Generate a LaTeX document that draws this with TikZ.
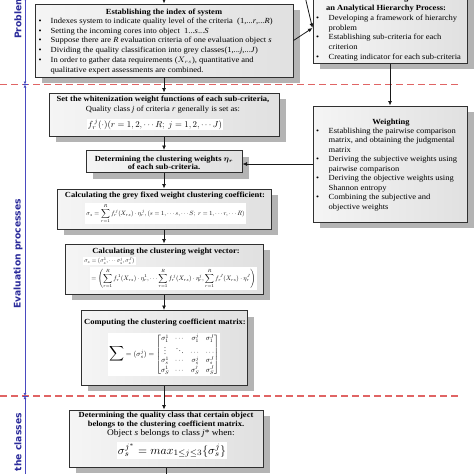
\documentclass[tikz,border=0pt]{standalone}
\usepackage{amsmath}
\usepackage{graphicx}
\usepackage{fontspec}
\setmainfont{Liberation Serif}[FakeStretch=1.09]
\newfontfamily\sidefont{DejaVu Sans}
\usetikzlibrary{arrows.meta,shadows}
\definecolor{boxline}{HTML}{303030}
\definecolor{shadowgray}{HTML}{B4B4B4}
\definecolor{sidebl}{HTML}{4A4AC0}
\definecolor{sidetxt}{HTML}{2A2A9A}
\definecolor{sepred}{HTML}{E06464}
\tikzset{
  box/.style={draw=boxline, line width=1pt, left color=black!4, right color=black!12, inner sep=0pt,
    drop shadow={shadow xshift=7pt, shadow yshift=-6pt, fill=shadowgray, opacity=1}},
  arr/.style={-{Latex[length=4.5pt,width=4pt]}, line width=0.8pt, draw=black!90},
  boxbody/.style={font=\fontsize{7.8}{9.75}\selectfont, inner sep=0pt},
  boxtitle/.style={font=\fontsize{7.8}{9.75}\selectfont\bfseries, inner sep=0pt},
  eq/.style={fill=white, inner sep=1.2pt},
  sidelabel/.style={font=\sidefont\bfseries\fontsize{9.2}{10}\selectfont, text=sidetxt, rotate=90, inner sep=0pt},
  sideline/.style={draw=sidebl, line width=0.8pt},
  sidetip/.style={sideline, {Latex[length=3pt,width=3pt]}-{Latex[length=3pt,width=3pt]}},
  sepline/.style={draw=sepred, line width=1.2pt, dash pattern=on 7pt off 4pt},
}
\begin{document}
\begin{tikzpicture}[x=1pt,y=-1pt]
\useasboundingbox (0,0) rectangle (474,474);

% side structure
\coordinate (s0) at (25,-3);
\coordinate (s1) at (25,84.5);
\coordinate (s2) at (25,396);
\coordinate (s3) at (25,478);
\draw[sepline] (0,84.5) -- (460,84.5);
\draw[sepline] (0,396) -- (460,396);
\draw[sidetip] (s0) -- (s1);
\draw[sidetip] (s1) -- (s2);
\draw[sidetip] (s2) -- (s3);
\draw[sideline] ([xshift=-2.5pt]s1) -- ([xshift=2.5pt]s1);
\draw[sideline] ([xshift=-2.5pt]s2) -- ([xshift=2.5pt]s2);
\node[sidelabel, anchor=west] (lab1) at (18,39) {Problem s};
\node[sidelabel] (lab2) at (18,254) {Evaluation processes};
\node[sidelabel, anchor=east] (lab3) at (18,413) {e the classes};

% boxes
\node[box, minimum width=258pt, minimum height=73pt] (b1) at (164,40.5) {};
\node[box, minimum width=154pt, minimum height=70pt] (ahp) at (390,28) {};
\node[box, minimum width=154pt, minimum height=116pt] (wgt) at (390,164) {};
\node[box, minimum width=230pt, minimum height=43pt] (b2) at (164,114.5) {};
\node[box, minimum width=156pt, minimum height=22pt] (b3) at (164,161.5) {};
\node[box, minimum width=214pt, minimum height=40pt] (b4) at (164,209) {};
\node[box, minimum width=198pt, minimum height=50pt] (b5) at (164,269) {};
\node[box, minimum width=166pt, minimum height=74.5pt] (b6) at (164,347.75) {};
\node[box, minimum width=194pt, minimum height=57pt] (b7) at (166,438.5) {};

% box 1
\node[boxtitle, anchor=base] (b1t) at (164,14.3) {Establishing the index of system};
\node[boxbody, anchor=base west] (b1l) at (38.5,23.3) {\begin{tabular}[t]{@{}p{12pt}@{}l@{}}
\textbullet & Indexes system to indicate quality level of the criteria\ \ (1,...\textit{r},...\textit{R})\\
\textbullet & Setting the incoming cores into object\ \ 1...\textit{s}...\textit{S}\\
\textbullet & Suppose there are \textit{R} evaluation criteria of one evaluation object \textit{s}\\
\textbullet & Dividing the quality classification into grey classes(1,...\textit{j},...\textit{J})\\
\textbullet & In order to gather data requirements ($X_{rs}$), quantitative and\\
 & qualitative expert assessments are combined.
\end{tabular}};

% AHP box
\node[boxtitle, anchor=base] (ahpt0) at (386,0.3) {Establishing};
\node[boxtitle, anchor=base] (ahpt) at (386,10.3) {an Analytical Hierarchy Process:};
\node[boxbody, anchor=base west] (ahpl) at (316,20.3) {\begin{tabular}[t]{@{}p{12.5pt}@{}l@{}}
\textbullet & Developing a framework of hierarchy\\
 & problem\\
\textbullet & Establishing sub-criteria for each\\
 & criterion\\
\textbullet & Creating indicator for each sub-criteria
\end{tabular}};

% Weighting box
\node[boxtitle, anchor=base] (wgtt) at (391,124.3) {Weighting};
\node[boxbody, font=\fontsize{7.8}{9.5}\selectfont, anchor=base west] (wgtl) at (316,133.3) {\begin{tabular}[t]{@{}p{12.5pt}@{}l@{}}
\textbullet & Establishing the pairwise comparison\\
 & matrix, and obtaining the judgmental\\
 & matrix\\
\textbullet & Deriving the subjective weights using\\
 & pairwise comparison\\
\textbullet & Deriving the objective weights using\\
 & Shannon entropy\\
\textbullet & Combining the subjective and\\
 & objective weights
\end{tabular}};

% box 2
\node[boxtitle, anchor=base] (b2t) at (163,101.3) {Set the whitenization weight functions of each sub-criteria,};
\node[boxbody, anchor=base] (b2s) at (163,111.3) {Quality class \textit{j} of criteria \textit{r} generally is set as:};
\node[eq] (b2e) at (155,124.5) {\resizebox{134pt}{!}{$f_r^{\,j}(\cdot)(r=1,2,\cdots R;\ j=1,2,\cdots J)$}};

% box 3
\node[boxtitle, anchor=base] (b3t) at (164,161.3) {Determining the clustering weights $\boldsymbol{\eta_r}$};
\node[boxtitle, anchor=base] (b3s) at (164,169.8) {of each sub-criteria.};

% box 4
\node[boxtitle, anchor=base] (b4t) at (165,197.3) {Calculating the grey fixed weight clustering coefficient:};
\node[eq] (b4e) at (165.5,213.5) {\resizebox{158pt}{!}{$\sigma_s=\displaystyle\sum_{r=1}^{R} f_r^{\,j}(X_{rs})\cdot\eta_r^{\,j},(s=1,\cdots s,\cdots S;\ r=1,\cdots r,\cdots R)$}};

% box 5
\node[boxtitle, anchor=base] (b5t) at (166,253.3) {Calculating the clustering weight vector:};
\node[eq, anchor=west] (b5e1) at (83,261) {\resizebox{50pt}{!}{$\sigma_s=(\sigma_s^1,\cdots\sigma_s^j,\sigma_s^J)$}};
\node[eq, anchor=west] (b5e2) at (90,278.5) {\resizebox{164pt}{!}{$=\left(\displaystyle\sum_{r=1}^{R} f_r^{\,1}(X_{rs})\cdot\eta_r^1,\cdots\sum_{r=1}^{R} f_r^{\,j}(X_{rs})\cdot\eta_r^j,\sum_{r=1}^{R} f_r^{\,J}(X_{rs})\cdot\eta_r^J\right)$}};

% box 6
\node[boxtitle, anchor=base] (b6t) at (165,324.3) {Computing the clustering coefficient matrix:};
\node[eq] (b6e) at (164,354.5) {\resizebox{110pt}{!}{\setlength\arraycolsep{4pt}$\mbox{\fontsize{14}{16}\selectfont$\displaystyle\sum$}=(\sigma_s^j)=\begin{bmatrix}\sigma_1^1&\cdots&\sigma_1^j&\sigma_1^J\\ \vdots&\ddots&\cdots&\cdots\\ \sigma_s^1&\cdots&\sigma_s^j&\sigma_s^J\\ \sigma_S^1&\cdots&\sigma_S^j&\sigma_S^J\end{bmatrix}$}};

% box 7
\node[boxtitle, anchor=base] (b7t) at (166,417.5) {Determining the quality class that certain object};
\node[boxtitle, anchor=base] (b7s) at (166,426.3) {belongs to the clustering coefficient matrix.};
\node[boxbody, font=\fontsize{8.6}{10}\selectfont, anchor=base] (b7u) at (171,435.3) {Object \textit{s} belongs to class \textit{j}* when:};
\node[eq] (b7e) at (172,450.5) {\resizebox{108pt}{!}{$\sigma_s^{j^*}=max_{1\le j\le 3}\{\sigma_s^{j}\}$}};

% connectors
\coordinate (b1src) at (164,-10);
\coordinate (ahpsrc) at (303,-12);
\coordinate (b7out) at (166,480);
\draw[arr] (b1src) -- (b1.north);
\draw[arr] (ahpsrc) -- (ahp.west);
\draw[arr] (b1.east) -- (ahp.west);
\draw[arr] (ahp.south) -- (wgt.north);
\draw[arr] (wgt.west |- 0,164) -- (b3.east |- 0,164);
\draw[arr] (b1.south) -- (b2.north);
\draw[arr] (b2.south) -- (b3.north);
\draw[arr] (b3.south) -- (b4.north);
\draw[arr] (b4.south) -- (b5.north);
\draw[arr] (b5.south) -- (b6.north);
\draw[arr] (b6.south) -- (b6.south |- b7.north);
\draw[line width=0.8pt, draw=black!90] (b7.south) -- (b7out);
\end{tikzpicture}
\end{document}
